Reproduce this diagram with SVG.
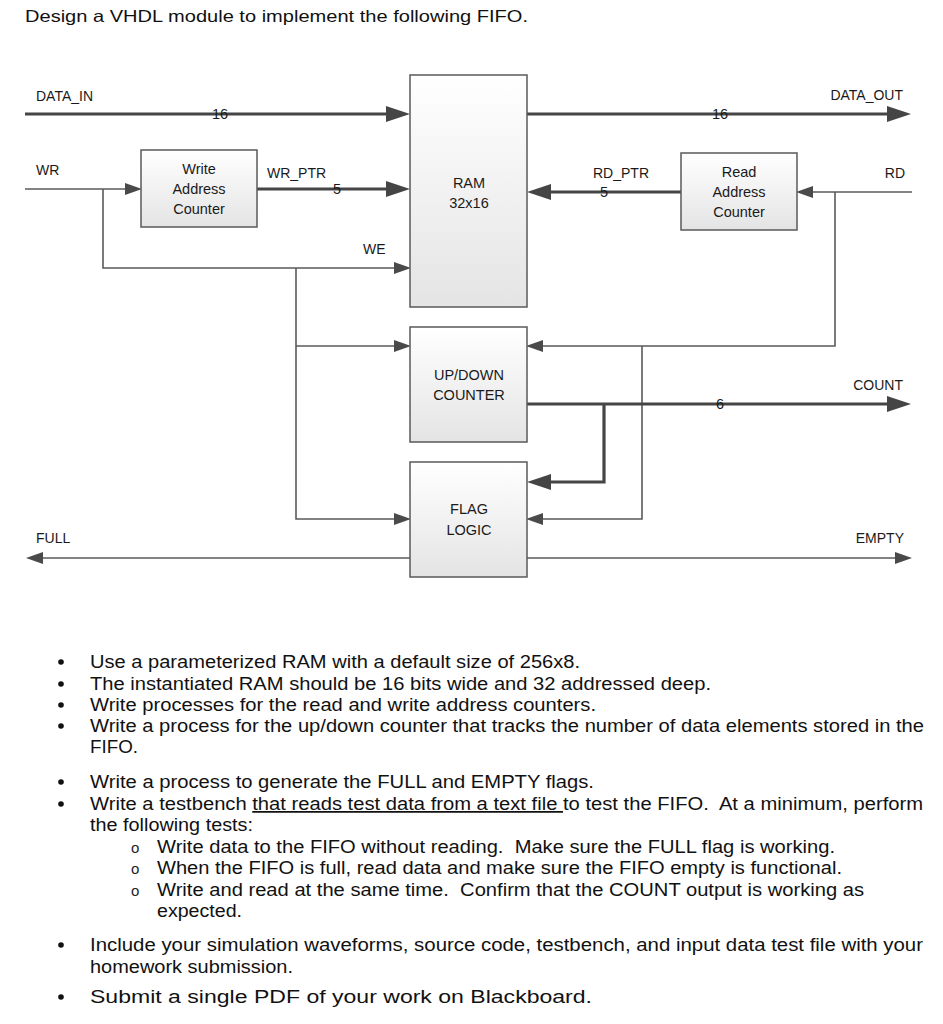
<svg xmlns="http://www.w3.org/2000/svg" width="943" height="1024" viewBox="0 0 943 1024">
<style>
.lbl{font-family:"Liberation Sans",Arial,sans-serif;font-size:14px;fill:#1a1a1a}
.num{font-family:"Liberation Sans",Arial,sans-serif;font-size:14.5px;fill:#1a1a1a;text-anchor:middle}
.box{fill:url(#g);stroke:#5a5a5a;stroke-width:1.5}
.bt{font-family:"Liberation Sans",Arial,sans-serif;font-size:14.5px;fill:#1a1a1a;text-anchor:middle}
.thin{fill:none;stroke:#5a5a5a;stroke-width:1.6}
.thick{fill:none;stroke:#454545;stroke-width:3.2}
.doc{font-family:"Liberation Sans",Arial,sans-serif;font-size:17.5px;fill:#111;white-space:pre}
.dot{fill:#111}
.bul{font-family:"Liberation Sans",Arial,sans-serif;font-size:15px;fill:#222}
</style>
<defs>
<linearGradient id="g" x1="0" y1="0" x2="0" y2="1">
<stop offset="0" stop-color="#ffffff"/>
<stop offset="1" stop-color="#e4e4e4"/>
</linearGradient>
<marker id="big" markerUnits="userSpaceOnUse" markerWidth="24" markerHeight="16" refX="12" refY="8" orient="auto">
<path d="M0,0 L24,8 L0,16 z" fill="#454545"/>
</marker>
<marker id="sm" markerUnits="userSpaceOnUse" markerWidth="17" markerHeight="12" refX="8" refY="6" orient="auto">
<path d="M0,0 L17,6 L0,12 z" fill="#4a4a4a"/>
</marker>
</defs>
<rect width="943" height="1024" fill="#ffffff"/>
<text x="25" y="22" font-family="Liberation Sans,Arial,sans-serif" font-size="16.5" fill="#111" textLength="503" lengthAdjust="spacingAndGlyphs">Design a VHDL module to implement the following FIFO.</text>

<g id="connectors">
<path class="thick" d="M25,114 H398" marker-end="url(#big)"/>
<path class="thick" d="M527,114 H899" marker-end="url(#big)"/>
<path class="thin" d="M25,189 H133" marker-end="url(#sm)"/>
<path class="thin" d="M103,189 V268 H402" marker-end="url(#sm)"/>
<path class="thick" d="M257,189 H398" marker-end="url(#big)"/>
<path class="thick" d="M681,192 H539" marker-end="url(#big)"/>
<path class="thin" d="M912,192 H805" marker-end="url(#sm)"/>
<path class="thin" d="M835,192 V346 H535" marker-end="url(#sm)"/>
<path class="thin" d="M296,268 V519 H402" marker-end="url(#sm)"/>
<path class="thin" d="M296,346 H402" marker-end="url(#sm)"/>
<path class="thin" d="M642,346 V519 H535" marker-end="url(#sm)"/>
<path class="thick" d="M527,404 H899" marker-end="url(#big)"/>
<path class="thick" d="M604,404 V482 H539" marker-end="url(#big)"/>
<path class="thin" d="M410,558 H35" marker-end="url(#sm)"/>
<path class="thin" d="M527,558 H903" marker-end="url(#sm)"/>
<text class="num" x="220" y="119">16</text>
<text class="num" x="720" y="119">16</text>
<text class="num" x="337" y="194">5</text>
<text class="num" x="604" y="197">5</text>
<text class="num" x="720" y="409">6</text>
</g>

<g id="labels">
<text class="lbl" x="36" y="101">DATA_IN</text>
<text class="lbl" x="36" y="175">WR</text>
<text class="lbl" x="267" y="178">WR_PTR</text>
<text class="lbl" x="363" y="254">WE</text>
<text class="lbl" x="36" y="543">FULL</text>
<text class="lbl" x="903" y="100" text-anchor="end">DATA_OUT</text>
<text class="lbl" x="649" y="178" text-anchor="end">RD_PTR</text>
<text class="lbl" x="905" y="178" text-anchor="end">RD</text>
<text class="lbl" x="903" y="390" text-anchor="end">COUNT</text>
<text class="lbl" x="904" y="543" text-anchor="end">EMPTY</text>
</g>

<g id="ram">
<rect class="box" x="410" y="75" width="117" height="232"/>
<text class="bt" x="469" y="188">RAM</text>
<text class="bt" x="469" y="208">32x16</text>
</g>
<g id="write-address-counter">
<rect class="box" x="141" y="150" width="116" height="77"/>
<text class="bt" x="199" y="174">Write</text>
<text class="bt" x="199" y="194">Address</text>
<text class="bt" x="199" y="214">Counter</text>
</g>
<g id="read-address-counter">
<rect class="box" x="681" y="153" width="116" height="77"/>
<text class="bt" x="739" y="177">Read</text>
<text class="bt" x="739" y="197">Address</text>
<text class="bt" x="739" y="217">Counter</text>
</g>
<g id="updown-counter">
<rect class="box" x="410" y="327" width="117" height="115"/>
<text class="bt" x="469" y="380">UP/DOWN</text>
<text class="bt" x="469" y="400">COUNTER</text>
</g>
<g id="flag-logic">
<rect class="box" x="410" y="462" width="117" height="115"/>
<text class="bt" x="469" y="514">FLAG</text>
<text class="bt" x="469" y="535">LOGIC</text>
</g>

<g id="notes">
<circle class="dot" cx="61" cy="662" r="2.8"/>
<text class="doc" x="90" y="668" textLength="490" lengthAdjust="spacingAndGlyphs">Use a parameterized RAM with a default size of 256x8.</text>
<circle class="dot" cx="61" cy="684" r="2.8"/>
<text class="doc" x="90" y="690" textLength="621" lengthAdjust="spacingAndGlyphs">The instantiated RAM should be 16 bits wide and 32 addressed deep.</text>
<circle class="dot" cx="61" cy="705" r="2.8"/>
<text class="doc" x="90" y="711" textLength="506" lengthAdjust="spacingAndGlyphs">Write processes for the read and write address counters.</text>
<circle class="dot" cx="61" cy="726" r="2.8"/>
<text class="doc" x="90" y="732" textLength="834" lengthAdjust="spacingAndGlyphs">Write a process for the up/down counter that tracks the number of data elements stored in the</text>
<text class="doc" x="90" y="753" textLength="48" lengthAdjust="spacingAndGlyphs">FIFO.</text>
<circle class="dot" cx="61" cy="782" r="2.8"/>
<text class="doc" x="90" y="788" textLength="504" lengthAdjust="spacingAndGlyphs">Write a process to generate the FULL and EMPTY flags.</text>
<circle class="dot" cx="61" cy="804" r="2.8"/>
<text class="doc" x="90" y="810" textLength="833" lengthAdjust="spacingAndGlyphs">Write a testbench <tspan text-decoration="underline">that reads test data from a text file </tspan>to test the FIFO.  At a minimum, perform</text>
<text class="doc" x="90" y="831" textLength="163" lengthAdjust="spacingAndGlyphs">the following tests:</text>
<text class="bul" x="131" y="853">o</text>
<text class="doc" x="157" y="853" textLength="678" lengthAdjust="spacingAndGlyphs">Write data to the FIFO without reading.  Make sure the FULL flag is working.</text>
<text class="bul" x="131" y="874">o</text>
<text class="doc" x="157" y="874" textLength="685" lengthAdjust="spacingAndGlyphs">When the FIFO is full, read data and make sure the FIFO empty is functional.</text>
<text class="bul" x="131" y="896">o</text>
<text class="doc" x="157" y="896" textLength="707" lengthAdjust="spacingAndGlyphs">Write and read at the same time.  Confirm that the COUNT output is working as</text>
<text class="doc" x="157" y="917" textLength="85" lengthAdjust="spacingAndGlyphs">expected.</text>
<circle class="dot" cx="61" cy="945" r="2.8"/>
<text class="doc" x="90" y="951" textLength="833" lengthAdjust="spacingAndGlyphs">Include your simulation waveforms, source code, testbench, and input data test file with your</text>
<text class="doc" x="90" y="973" textLength="203" lengthAdjust="spacingAndGlyphs">homework submission.</text>
<circle class="dot" cx="61" cy="997" r="2.8"/>
<text class="doc" x="90" y="1003" textLength="502" lengthAdjust="spacingAndGlyphs">Submit a single PDF of your work on Blackboard.</text>
</g>
</svg>
